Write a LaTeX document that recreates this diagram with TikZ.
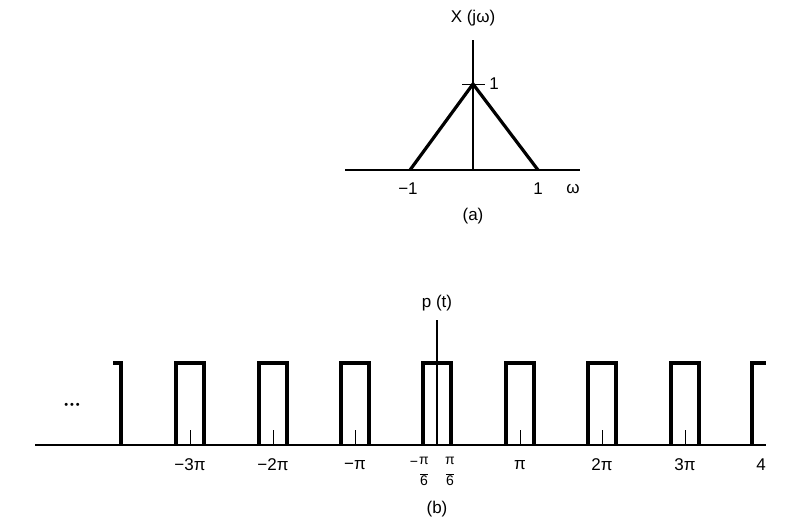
\documentclass[tikz,border=0pt]{standalone}
\usepackage{fontspec}
\setmainfont{Liberation Sans}
\newcommand{\fr}[1]{\begin{tabular}{@{}c@{}}π\\[-5pt]\rule{8pt}{0.6pt}\\[-4pt]#1\end{tabular}}
\begin{document}
\begin{tikzpicture}[x=1pt,y=-1pt,
  ax/.style={line width=1.2pt},
  thick3/.style={line width=3.4pt,line join=miter},
  lbl/.style={font=\fontsize{17}{19}\selectfont,inner sep=1pt},
  frac/.style={font=\fontsize{14}{15}\selectfont,inner sep=0pt}]
\useasboundingbox (0,0) rectangle (797,530);
% (a)
\coordinate (a0) at (345,170); \coordinate (a1) at (580,170);
\draw[ax] (a0) -- (a1);
\coordinate (v0) at (473,170); \coordinate (v1) at (473,40);
\draw[line width=2.2pt] (v0) -- (v1);
\coordinate (tl) at (410,170); \coordinate (tp) at (473,84); \coordinate (tr) at (538,170);
\draw[line width=3.2pt] (tl) -- (tp) -- (tr);
\coordinate (k0) at (462,84); \coordinate (k1) at (485,84);
\draw[line width=0.5pt] (k0) -- (k1);
\node[lbl] (xl) at (473,18) {X (jω)};
\node[lbl] (one) at (494,84) {1};
\node[lbl] (m1) at (408,189) {−1};
\node[lbl] (p1) at (538,189) {1};
\node[lbl] (om) at (573,189) {ω};
\node[lbl] (la) at (473,216) {(a)};
% (b)
\coordinate (b0) at (35,445); \coordinate (b1) at (766,445);
\draw[ax] (b0) -- (b1);
\foreach \c/\n in {190/1,273/2,355/3,437/4,520/5,602/6,685/7}{
  \coordinate (pl\n) at (\c-14,445); \coordinate (pr\n) at (\c+14,445);
  \draw[thick3] (pl\n) -- ++(0,-82) -- ++(28,0) -- (pr\n);
  \coordinate (tk\n) at (\c,430); \coordinate (tb\n) at (\c,445);
  \draw[line width=0.7pt] (tk\n) -- (tb\n);
}
\coordinate (ql) at (752,445); \draw[thick3] (ql) -- ++(0,-82) -- ++(14,0);
\coordinate (qr) at (121,445); \draw[thick3] (qr) -- ++(0,-82) -- ++(-8,0);
\coordinate (pt0) at (437,445); \coordinate (pt1) at (437,320);
\draw[line width=1.2pt] (pt0) -- (pt1);
\node[lbl] (ptl) at (437,303) {p (t)};
\node[lbl] (dots) at (72,406) {\fontsize{11}{11}\selectfont •\,•\,•};
\node[lbl] (l1) at (190,465) {−3π};
\node[lbl] (l2) at (273,465) {−2π};
\node[lbl] (l3) at (355,465) {−π};
\node[frac] (l4m) at (414,464) {−};
\node[frac] (l4) at (424,472) {\fr{6}};
\node[frac] (l5) at (450,472) {\fr{6}};
\node[lbl] (l6) at (520,465) {π};
\node[lbl] (l7) at (602,465) {2π};
\node[lbl] (l8) at (685,465) {3π};
\node[lbl] (l9) at (761,465) {4};
\node[lbl] (lb) at (437,509) {(b)};
\end{tikzpicture}
\end{document}
